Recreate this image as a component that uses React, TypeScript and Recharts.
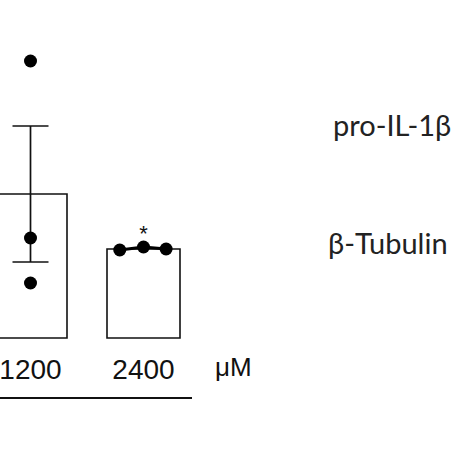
import {
  ComposedChart,
  Bar,
  ErrorBar,
  Scatter,
  LabelList,
  XAxis,
  YAxis,
} from "recharts";

// concentrations (µM), bar means with SEM, and per-replicate points
const doses = ["1200", "2400"];
const means = [1.44, 0.89];
const sems = [0.68, 0];
const marks = ["", "*"];

const dose1200X = [1, 1, 1];
const dose1200Y = [2.77, 1.0, 0.55];
const dose2400X = [1.79, 2, 2.2];
const dose2400Y = [0.88, 0.91, 0.89];

const bars = doses.map((dose, i) => ({
  dose,
  mean: means[i],
  sem: sems[i],
  mark: marks[i],
}));
const pts1200 = dose1200X.map((x, i) => ({ x, y: dose1200Y[i] }));
const pts2400 = dose2400X.map((x, i) => ({ x, y: dose2400Y[i] }));

function DoseTick(props: any) {
  const { x, y, payload } = props;
  return (
    <text
      x={x}
      y={y}
      dy={41}
      textAnchor="middle"
      fontSize={28}
      fontFamily="'Liberation Sans', Arial, sans-serif"
      fill="#111"
    >
      {payload.value}
    </text>
  );
}

const dot = (p: any) => <circle cx={p.cx} cy={p.cy} r={6.5} fill="#000" />;

const label: React.CSSProperties = {
  position: "absolute",
  fontFamily: "Lato, 'Open Sans', sans-serif",
  color: "#222",
  whiteSpace: "nowrap",
  lineHeight: 1,
};

export default function App() {
  return (
    <div
      style={{
        position: "absolute",
        left: 0,
        top: 0,
        width: 474,
        height: 474,
        overflow: "hidden",
        background: "#fff",
      }}
    >
      <div style={{ position: "absolute", left: -26.5, top: 38 }}>
        <ComposedChart
          width={226}
          height={360}
          data={bars}
          margin={{ top: 0, right: 0, bottom: 0, left: 0 }}
        >
          <XAxis
            xAxisId="cat"
            dataKey="dose"
            type="category"
            tick={<DoseTick />}
            axisLine={false}
            tickLine={false}
            tickSize={0}
            tickMargin={0}
            height={60}
            interval={0}
          />
          <XAxis
            xAxisId="num"
            dataKey="x"
            type="number"
            domain={[0.5, 2.5]}
            hide
          />
          <YAxis type="number" domain={[0, 3]} hide />
          <Bar
            xAxisId="cat"
            dataKey="mean"
            barSize={73}
            fill="#fff"
            stroke="#111"
            strokeWidth={1.6}
            isAnimationActive={false}
          >
            <ErrorBar
              dataKey="sem"
              width={18}
              stroke="#111"
              strokeWidth={1.7}
              direction="y"
            />
            <LabelList
              dataKey="mark"
              position="top"
              offset={8}
              fontSize={22}
              fill="#111"
              fontFamily="'Liberation Sans', Arial, sans-serif"
            />
          </Bar>
          <Scatter
            xAxisId="num"
            data={pts1200}
            dataKey="y"
            fill="#000"
            shape={dot}
            isAnimationActive={false}
          />
          <Scatter
            xAxisId="num"
            data={pts2400}
            dataKey="y"
            fill="#000"
            line={{ stroke: "#000", strokeWidth: 3 }}
            shape={dot}
            isAnimationActive={false}
          />
        </ComposedChart>
      </div>
      <div
        style={{
          position: "absolute",
          left: 0,
          top: 397,
          width: 192,
          height: 0,
          borderTop: "2px solid #111",
        }}
      />
      <div
        style={{
          position: "absolute",
          left: 215,
          top: 354,
          fontSize: 26,
          fontFamily: "'Liberation Sans', Arial, sans-serif",
          color: "#111",
          lineHeight: 1,
        }}
      >
        μM
      </div>
      <div style={{ ...label, left: 333, top: 110, fontSize: 29 }}>pro-IL-1β</div>
      <div style={{ ...label, left: 328, top: 228, fontSize: 29 }}>β-Tubulin</div>
    </div>
  );
}
